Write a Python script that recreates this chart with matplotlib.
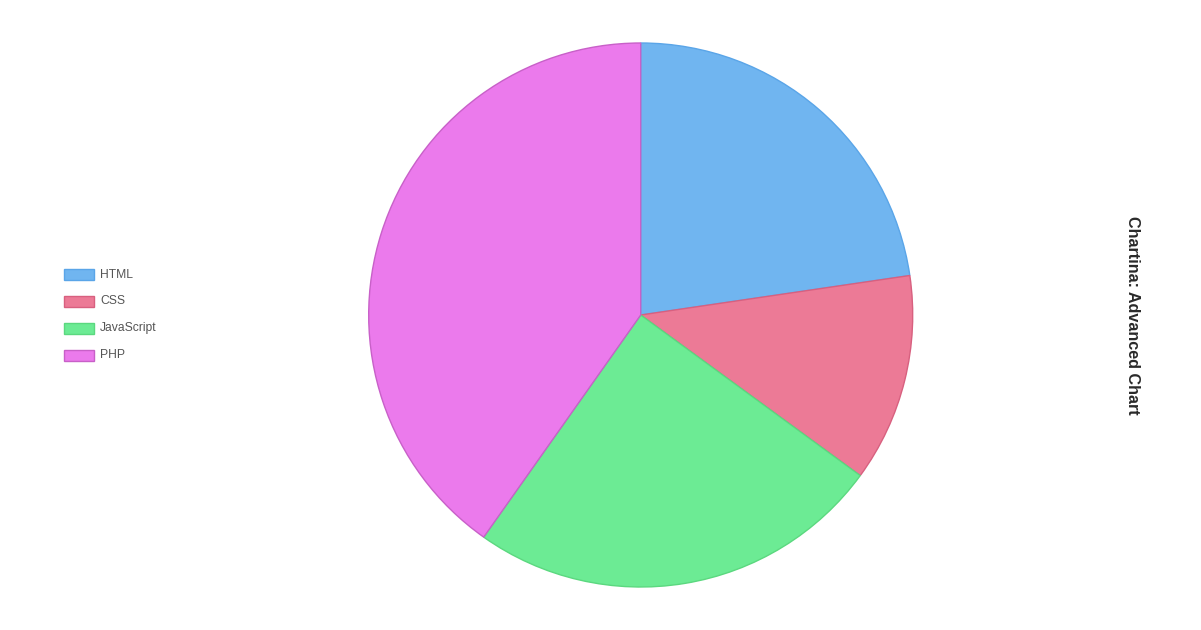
import matplotlib
matplotlib.use("Agg")
import matplotlib.pyplot as plt
from matplotlib.patches import Rectangle

labels = ["HTML", "CSS", "JavaScript", "PHP"]
values = [44, 24, 48, 78]
fill_colors = ["#70b5f0", "#ec7a96", "#6ceb94", "#eb7aec"]
edge_colors = ["#5aa5e8", "#d8607f", "#5bd87f", "#c860c8"]
title = "Chartina: Advanced Chart"

W, H = 1201, 630
fig = plt.figure(figsize=(W / 100, H / 100), dpi=100)
ax = fig.add_axes([0, 0, 1, 1])

wedges, _ = ax.pie(values, colors=fill_colors, startangle=90, counterclock=False,
                   center=(640.7, H - 315), radius=272, frame=True,
                   wedgeprops=dict(linewidth=1.0))
for w, ec in zip(wedges, edge_colors):
    w.set_edgecolor(ec)
ax.set_xlim(0, W)
ax.set_ylim(0, H)
ax.set_aspect("equal")
ax.axis("off")

# legend
box_x, box_w, box_h = 64, 30, 11
y0, dy = 274.5, 27
for i, (lab, fc, ec) in enumerate(zip(labels, fill_colors, edge_colors)):
    yc = y0 + i * dy
    ax.add_patch(Rectangle((box_x, H - yc - box_h / 2), box_w, box_h,
                           facecolor=fc, edgecolor=ec, linewidth=1))
    ax.text(100, H - yc, lab, fontsize=8.7, color="#555555",
            family="Liberation Sans", va="center", ha="left")

ax.text(1133, H - 315, title, rotation=270, fontsize=11.6, fontweight="bold",
        color="#2a2a2a", family="Liberation Sans", ha="center", va="center")

fig.savefig("out.png", dpi=100, facecolor="white")
